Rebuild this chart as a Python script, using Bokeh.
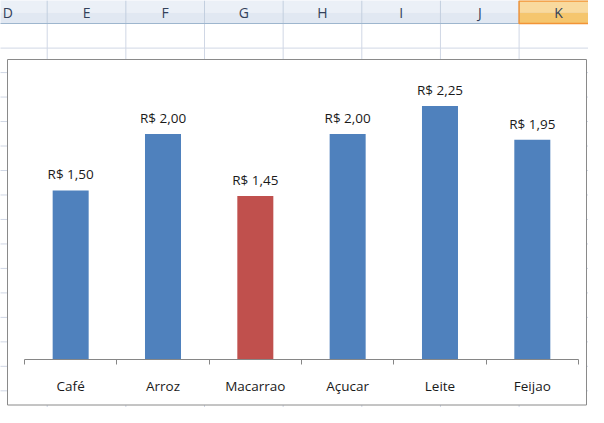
from bokeh.plotting import figure
from bokeh.models import Range1d, LinearAxis, FixedTicker
from bokeh.core.properties import value
from bokeh.embed import file_html
from bokeh.resources import INLINE

# ---- data ----
categories = ["Café", "Arroz", "Macarrao", "Açucar", "Leite", "Feijao"]
prices = [1.50, 2.00, 1.45, 2.00, 2.25, 1.95]
price_labels = ["R$ 1,50", "R$ 2,00", "R$ 1,45", "R$ 2,00", "R$ 2,25", "R$ 1,95"]
bar_colors = ["#4F81BD", "#4F81BD", "#C0504D", "#4F81BD", "#4F81BD", "#4F81BD"]
sheet_columns = ["D", "E", "F", "G", "H", "I", "J", "K"]

# ---- geometry (picture pixels -> data) ----
W, H = 588, 407
X0, CW = 24.0, 92.33      # left of first category, category width (px)
Y0, U = 359.0, 112.7      # baseline (px), pixels per R$ 1


def dx(X):
    return (X - (X0 + CW / 2)) / CW


def dy(Y):
    return (Y0 - Y) / U


p = figure(width=W, height=H,
           x_range=Range1d(dx(0), dx(W)),
           y_range=Range1d(dy(H), dy(0)),
           x_axis_location=None, y_axis_location=None,
           toolbar_location=None, output_backend="svg", min_border=0)
p.outline_line_color = None
p.background_fill_color = "white"
p.border_fill_color = "white"
p.grid.visible = False

# ---- spreadsheet background ----
col_step = 78.65
col_bounds = [46.7 + col_step * (k - 1) for k in range(9)]
row_lines = [47.6 + 24.48 * k for k in range(16)]
grid_col = "#D0D7E5"
p.segment(x0=[dx(c) for c in col_bounds], y0=[dy(23)] * 9,
          x1=[dx(c) for c in col_bounds], y1=[dy(430)] * 9,
          line_color=grid_col, line_width=1)
p.segment(x0=[dx(-10)] * len(row_lines), y0=[dy(r) for r in row_lines],
          x1=[dx(620)] * len(row_lines), y1=[dy(r) for r in row_lines],
          line_color=grid_col, line_width=1)

# header
p.quad(left=dx(-40), right=dx(650), top=dy(-10), bottom=dy(12),
       fill_color="#EBF0F7", line_color=None)
p.quad(left=dx(-40), right=dx(650), top=dy(12), bottom=dy(23),
       fill_color="#E1E8F2", line_color=None)
p.quad(left=dx(col_bounds[7]), right=dx(col_bounds[8]), top=dy(-10), bottom=dy(12),
       fill_color="#F9DA9E", line_color=None)
p.quad(left=dx(col_bounds[7]), right=dx(col_bounds[8]), top=dy(12), bottom=dy(23),
       fill_color="#F5C66E", line_color=None)
p.segment(x0=[dx(c) for c in col_bounds], y0=[dy(0)] * 9,
          x1=[dx(c) for c in col_bounds], y1=[dy(23)] * 9,
          line_color="#C3CFDF", line_width=1)
p.segment(x0=[dx(-40)], y0=[dy(23)], x1=[dx(650)], y1=[dy(23)],
          line_color="#9EB6CE", line_width=1)
p.quad(left=dx(col_bounds[7]), right=dx(col_bounds[8]), top=dy(0.5), bottom=dy(23),
       fill_color=None, line_color="#F29436", line_width=1.5)
header_x = [max(dx((col_bounds[k] + col_bounds[k + 1]) / 2), dx(7)) for k in range(8)]
p.text(x=header_x, y=[dy(12)] * 8, text=sheet_columns,
       text_font=value("Open Sans"), text_font_size="14px",
       text_color="#33415A", text_align="center", text_baseline="middle")

# ---- chart area ----
p.quad(left=dx(7), right=dx(W - 2), top=dy(59), bottom=dy(H - 2.5),
       fill_color="white", line_color="#8A8A8A", line_width=1)

xs = list(range(len(categories)))
p.vbar(x=xs, top=prices, bottom=0, width=0.39, fill_color=bar_colors, line_color=None)

p.text(x=xs, y=prices, text=price_labels, y_offset=-16,
       text_font=value("Open Sans"), text_font_size="13.5px", text_color="#1a1a1a",
       text_align="center", text_baseline="alphabetic")

ax = LinearAxis(fixed_location=0,
                ticker=FixedTicker(ticks=xs, minor_ticks=[i - 0.5 for i in range(len(categories) + 1)]),
                major_label_overrides={i: c for i, c in enumerate(categories)})
ax.bounds = (-0.5, len(categories) - 0.5)
ax.axis_line_color = "#868686"
ax.major_tick_line_color = None
ax.major_tick_out = 0
ax.major_tick_in = 0
ax.minor_tick_line_color = "#868686"
ax.minor_tick_out = 5
ax.minor_tick_in = 0
ax.major_label_standoff = 12
ax.major_label_text_font = "Open Sans"
ax.major_label_text_font_size = "13.5px"
ax.major_label_text_color = "#1a1a1a"
p.add_layout(ax, "below")

open("out.html", "w").write(file_html(p, INLINE))
